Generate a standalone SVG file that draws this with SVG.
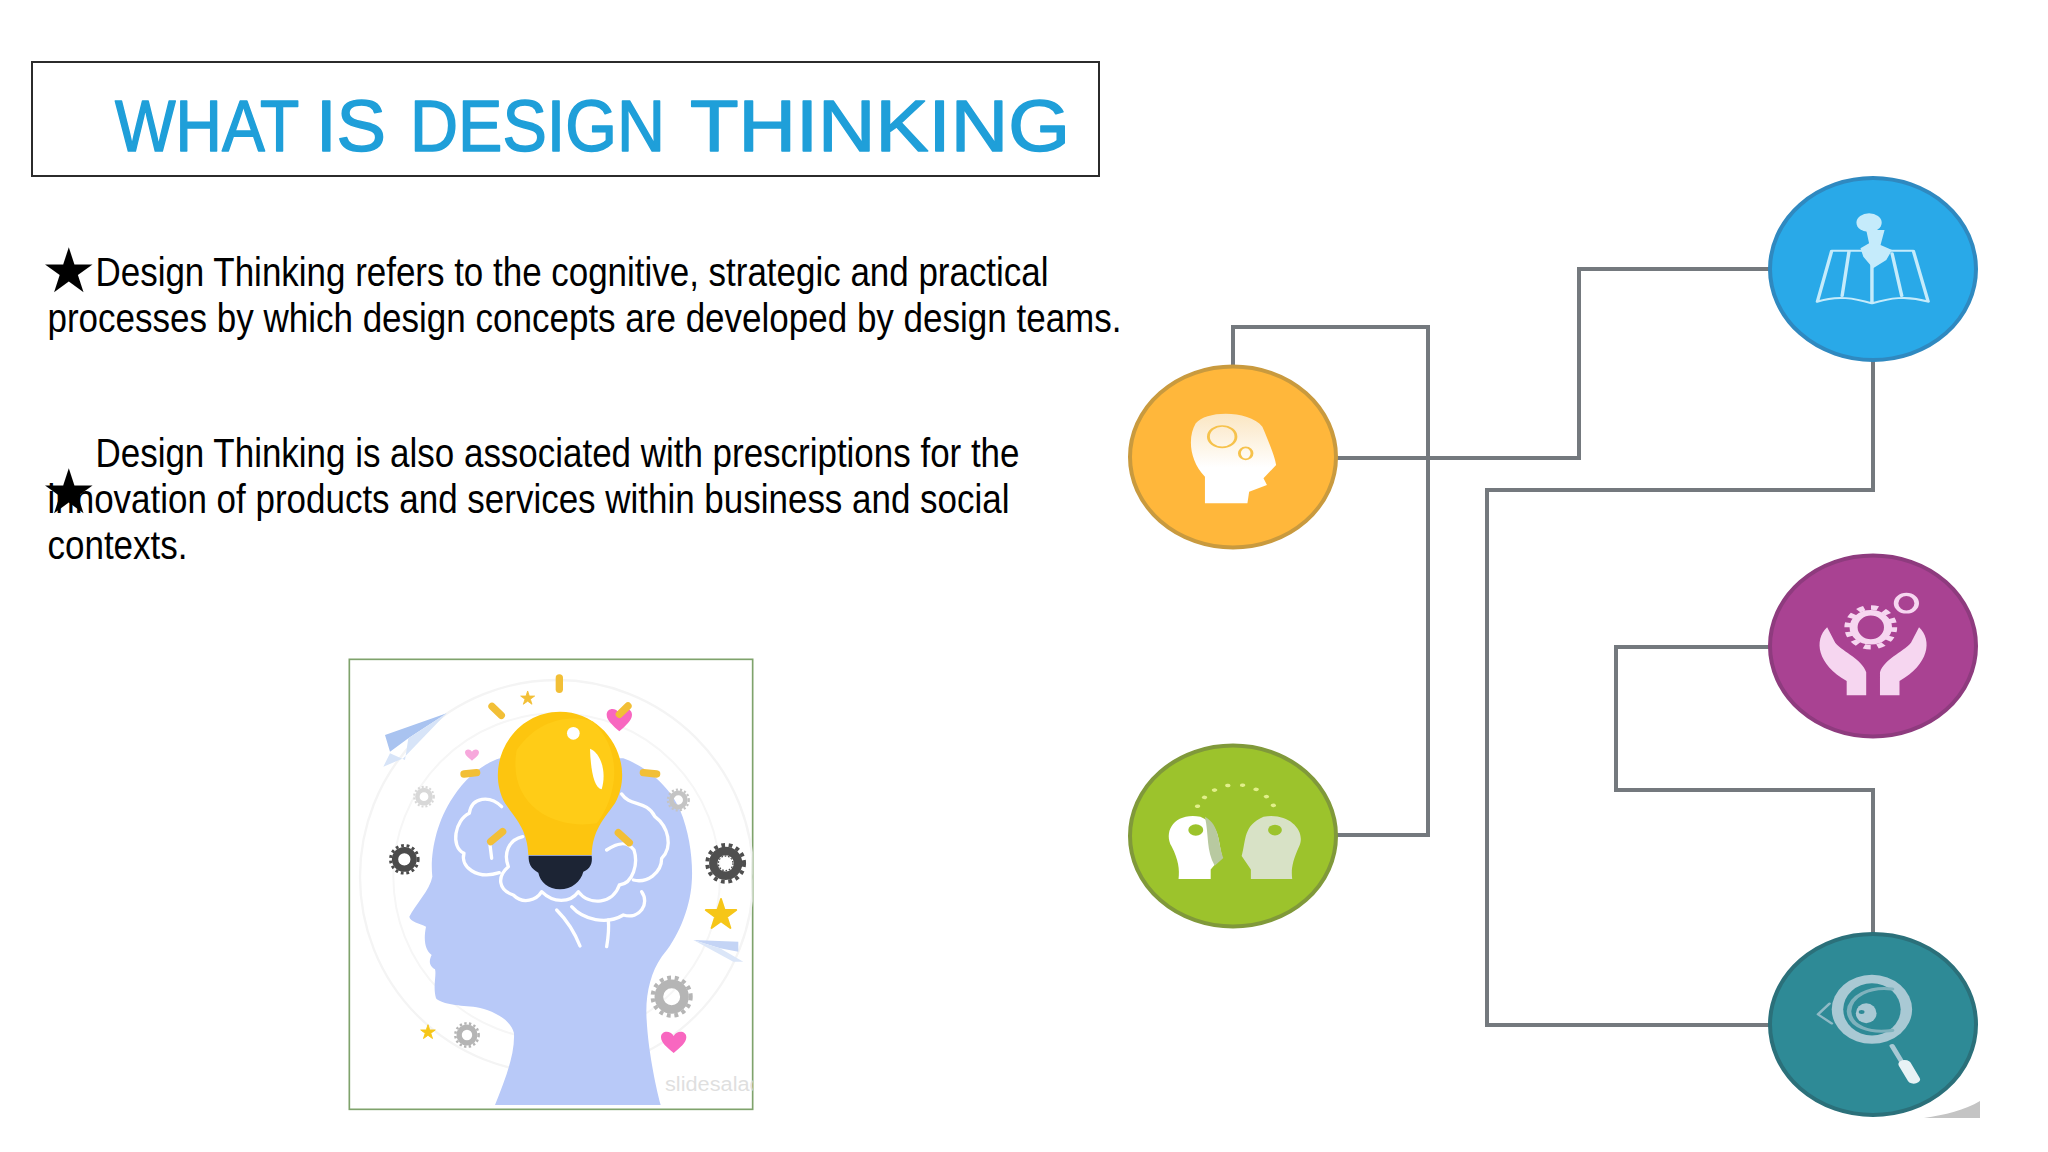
<svg xmlns="http://www.w3.org/2000/svg" width="2048" height="1152" viewBox="0 0 2048 1152">
<style>
.body{font-family:"Liberation Sans",Arial,sans-serif;font-size:40px;fill:#000}
.title{font-family:"Liberation Sans",Arial,sans-serif;font-size:72px;fill:#1f9fd9;stroke:#1f9fd9;stroke-width:1.500;stroke-linejoin:round}
.bullet{font-family:"DejaVu Sans",sans-serif;font-size:62px;fill:#000}
.conn{fill:none;stroke:#74797e;stroke-width:4;stroke-linejoin:miter}
.ray{stroke:#f2bf36;stroke-width:22;stroke-linecap:round;fill:none}
.brain{fill:none;stroke:#fff;stroke-width:10;stroke-linecap:round;stroke-linejoin:round}
.ic{fill:none;stroke-linecap:round;stroke-linejoin:round}
</style>
<defs>
<polygon id="star" points="0,-1 .2245,-.309 .951,-.309 .363,.118 .588,.809 0,.382 -.588,.809 -.363,.118 -.951,-.309 -.2245,-.309" stroke-width=".12" stroke-linejoin="round"/>
<path id="heart" d="M0,.9 C-.5,.45 -1,.1 -1,-.35 C-1,-.85 -.3,-.95 0,-.45 C.3,-.95 1,-.85 1,-.35 C1,.1 .5,.45 0,.9Z"/>
<g id="gear" fill="none" stroke="currentColor"><circle r=".62" stroke-width=".42"/><circle r=".92" stroke-width=".2" pathLength="28" stroke-dasharray="1 1"/></g>
<clipPath id="picClip"><rect x="28" y="28" width="1210" height="1350"/></clipPath>
<linearGradient id="headFade" x1="0" y1="0" x2="0" y2="1"><stop offset="0" stop-color="#fbe6c2"/><stop offset=".6" stop-color="#fff"/></linearGradient>
</defs>
<rect width="2048" height="1152" fill="#fff"/>

<g id="title">
<rect x="32" y="62" width="1067" height="114" fill="#fff" stroke="#2b2b2b" stroke-width="2"/>
<text class="title" y="151"><tspan x="115" textLength="183" lengthAdjust="spacingAndGlyphs">WHAT</tspan> <tspan x="316" textLength="70" lengthAdjust="spacingAndGlyphs">IS</tspan> <tspan x="410" textLength="255" lengthAdjust="spacingAndGlyphs">DESIGN</tspan> <tspan x="690" textLength="380" lengthAdjust="spacingAndGlyphs">THINKING</tspan></text>
</g>

<g id="paragraph-1">
<text class="bullet" x="41" y="292">★</text>
<text class="body" x="95.500" y="286" textLength="953" lengthAdjust="spacingAndGlyphs">Design Thinking refers to the cognitive, strategic and practical</text>
<text class="body" x="47.500" y="332" textLength="1074" lengthAdjust="spacingAndGlyphs">processes by which design concepts are developed by design teams.</text>
</g>
<g id="paragraph-2">
<text class="body" x="95.500" y="467" textLength="924" lengthAdjust="spacingAndGlyphs">Design Thinking is also associated with prescriptions for the</text>
<text class="body" x="47.500" y="513" textLength="962" lengthAdjust="spacingAndGlyphs">innovation of products and services within business and social</text>
<text class="body" x="47.500" y="559" textLength="140" lengthAdjust="spacingAndGlyphs">contexts.</text>
<text class="bullet" x="41" y="513">★</text>
</g>

<g id="illustration" transform="translate(340,650) scale(.33333)">
<rect x="28" y="28" width="1210" height="1350" fill="#fff" stroke="#7fa36c" stroke-width="5"/>
<g clip-path="url(#picClip)">
<circle cx="650" cy="680" r="590" fill="none" stroke="#f4f4f4" stroke-width="7"/>
<circle cx="650" cy="680" r="490" fill="none" stroke="#f6f6f6" stroke-width="6"/>
<path d="M465,1365 C490,1300 525,1220 522,1150 C510,1100 440,1075 400,1070 C350,1068 300,1060 288,1045 C278,1010 290,975 285,958 C262,945 270,925 275,915 C255,900 250,870 258,830 C240,820 210,815 208,800 C225,765 270,720 277,680 C270,620 285,520 340,440 C380,380 430,340 480,325 L850,325 C920,350 990,410 1020,480 C1050,550 1060,640 1055,700 C1050,780 1010,870 965,920 C930,970 915,1040 920,1110 C925,1200 945,1300 962,1365 Z" fill="#b8c9f8"/>
<g class="brain">
<path d="M485,470 C450,435 395,440 388,490 C345,510 330,590 372,610 C360,650 410,690 478,668"/>
<path d="M548,560 C505,570 490,610 505,650 C470,680 475,720 520,735 C550,765 590,750 605,725 C640,760 690,760 715,725 C750,770 820,760 838,705 C880,700 895,640 882,600 C860,570 830,580 800,600"/>
<path d="M845,432 C870,470 920,450 945,500 C985,530 1000,590 965,625 C965,670 920,700 880,690"/>
<path d="M905,725 C930,760 900,810 850,795 C800,825 730,810 695,770"/>
<path d="M650,780 C680,810 705,850 720,888"/>
<path d="M805,810 C808,840 805,860 800,890"/>
<path d="M450,585 L455,625"/>
</g>
<g class="ray">
<path d="M658,84 V118"/><path d="M456,169 L484,196"/><path d="M372,372 L410,368"/><path d="M910,368 L950,372"/><path d="M452,575 L488,545"/><path d="M835,548 L868,578"/>
</g>
<use href="#heart" transform="translate(838,208) scale(38,40)" fill="#f867c0"/>
<path class="ray" d="M864,168 L838,193"/>
<use href="#heart" transform="translate(396,314) scale(21,20)" fill="#f7a8dc"/>
<use href="#heart" transform="translate(1001,1175) scale(38,38)" fill="#f867c0"/>
<use href="#star" transform="translate(563,145) scale(22)" fill="#f2bf36" stroke="#f2bf36"/>
<use href="#star" transform="translate(1143,795) scale(48)" fill="#f6c618" stroke="#f6c618"/>
<use href="#star" transform="translate(264,1147) scale(23)" fill="#f6c618" stroke="#f6c618"/>
<use href="#gear" transform="translate(193,628) scale(45)" color="#4b4b4b"/>
<use href="#gear" transform="translate(1157,640) scale(60)" color="#4f4f4f"/>
<circle cx="1157" cy="640" r="22" fill="none" stroke="#4f4f4f" stroke-width="4" stroke-dasharray="5 5"/>
<use href="#gear" transform="translate(995,1040) scale(62)" color="#b5b5b5"/>
<use href="#gear" transform="translate(381,1155) scale(38)" color="#b5b5b5"/>
<use href="#gear" transform="translate(252,440) scale(32)" color="#d8d8d8"/>
<use href="#gear" transform="translate(1015,450) scale(34)" color="#c4c4c4"/>
<polygon points="320,190 135,255 150,305 205,265" fill="#a9c3f0"/>
<polygon points="320,190 205,265 195,330 150,310 130,350 190,325" fill="#d7e4f8"/>
<polygon points="1060,870 1195,875 1195,905 1140,895" fill="#c4d4f5"/>
<polygon points="1060,870 1140,895 1210,935 1180,935" fill="#dbe6f8"/>
<path d="M565,615 C562,540 530,510 495,460 C430,340 520,185 660,185 C800,185 890,340 825,460 C790,510 758,540 755,615 Z" fill="#fdc50f"/>
<path d="M530,300 C600,200 700,195 760,215 C870,330 810,470 770,520 C650,540 500,470 530,300Z" fill="#ffcc17"/>
<circle cx="700" cy="250" r="19" fill="#fff"/>
<path d="M750,296 C785,310 800,370 785,418 C762,415 752,360 750,296Z" fill="#fff"/>
<path d="M566,617 H755 C758,640 752,655 730,665 C722,695 695,718 660,718 C625,718 600,695 595,668 C572,655 565,640 566,617Z" fill="#1c2434"/>
<text x="975" y="1322" font-family="'Liberation Sans',sans-serif" font-size="58" fill="#dfdfdf" textLength="290" lengthAdjust="spacingAndGlyphs">slidesalad</text>
</g>
</g>

<g id="connectors" class="conn">
<path class="conn" d="M1233,366 V327 H1428 V835 H1337"/>
<path class="conn" d="M1337,458 H1579 V269 H1769"/>
<path class="conn" d="M1873,361 V490 H1487 V1025 H1769"/>
<path class="conn" d="M1769,647 H1616 V790 H1873 V933"/>
</g>

<g id="node-empathize">
<ellipse cx="1233" cy="457" rx="103" ry="90.5" fill="#ffb73b" stroke="#c99a3e" stroke-width="4"/>
<g transform="translate(1120,160) scale(.574,.33333)">
<path d="M148,1030 L148,950 C120,900 118,830 132,790 C150,750 225,750 248,800 C258,840 270,890 272,915 L250,955 L256,975 L225,995 L222,1030Z" fill="url(#headFade)"/>
<ellipse cx="178" cy="830" rx="24" ry="32" fill="none" stroke="#f6c24c" stroke-width="5"/>
<ellipse cx="219" cy="880" rx="11" ry="18" fill="none" stroke="#f6c24c" stroke-width="5"/>
</g>
</g>
<g id="node-define">
<ellipse cx="1873" cy="269" rx="103" ry="91" fill="#29a9e8" stroke="#2f89c0" stroke-width="4"/>
<g transform="translate(1120,160) scale(.574,.33333)">
<path class="ic" d="M1215,425 L1240,272 H1382 L1408,425 C1370,405 1340,415 1310,430 C1280,415 1250,405 1215,425Z M1270,275 L1258,408 M1310,290 V428 M1345,280 L1362,408" stroke="#c5ebfb" stroke-width="6"/>
<ellipse cx="1305" cy="188" rx="22" ry="28" fill="#c5ebfb"/>
<path d="M1300,210 L1332,210 L1325,255 L1345,270 L1335,300 L1312,325 L1295,290 L1290,265 L1305,250Z" fill="#c5ebfb"/>
</g>
</g>
<g id="node-ideate">
<ellipse cx="1873" cy="646" rx="103" ry="90.5" fill="#a94292" stroke="#8e3b7e" stroke-width="4"/>
<g transform="translate(1120,540) scale(.574,.38314)">
<ellipse cx="1308" cy="228" rx="30" ry="38" fill="none" stroke="#f6d6f0" stroke-width="14"/>
<ellipse cx="1308" cy="228" rx="40" ry="52" fill="none" stroke="#f6d6f0" stroke-width="12" pathLength="24" stroke-dasharray="1 1"/>
<ellipse cx="1370" cy="165" rx="18" ry="23" fill="none" stroke="#f6d6f0" stroke-width="8"/>
<path d="M1232,228 C1208,262 1215,325 1266,368 L1266,405 L1300,405 L1300,345 C1292,310 1262,295 1246,268 Z" fill="#f6d6f0"/>
<path d="M1392,228 C1416,262 1409,325 1358,368 L1358,405 L1324,405 L1324,345 C1332,310 1362,295 1378,268 Z" fill="#f6d6f0"/>
</g>
</g>
<g id="node-prototype">
<ellipse cx="1233" cy="836" rx="103" ry="90.5" fill="#9cc32c" stroke="#80993a" stroke-width="4"/>
<g transform="translate(1120,540) scale(.574,.38314)">
<path class="ic" d="M135,695 C165,620 240,620 268,695" stroke="#e1ef8a" stroke-width="9" pathLength="10" stroke-dasharray="0.01 1.4"/>
<path d="M228,885 L228,860 L212,825 C220,780 215,745 250,722 C295,710 325,760 312,800 C300,840 298,860 300,885Z" fill="#d8e2c6"/>
<path d="M158,885 V860 L178,825 C170,780 175,745 140,722 C95,710 75,760 90,800 C102,835 104,860 102,885Z" fill="#fff"/>
<path d="M148,722 C175,745 170,790 180,830 L165,850 C150,810 155,770 148,722Z" fill="#b8c9a0"/>
<ellipse cx="132" cy="757" rx="13" ry="15" fill="#9cc32c"/>
<ellipse cx="270" cy="757" rx="12" ry="14" fill="#9cc32c"/>
</g>
</g>
<g id="node-test">
<ellipse cx="1873" cy="1024.500" rx="103" ry="90.5" fill="#2e8a96" stroke="#2b707a" stroke-width="4"/>
<g transform="translate(1120,540) scale(.574,.38314)">
<path class="ic" d="M1345,1320 L1362,1362" stroke="#a9c9d4" stroke-width="9"/>
<path class="ic" d="M1367,1368 L1383,1408" stroke="#e8f2f5" stroke-width="22"/>
<ellipse cx="1310" cy="1225" rx="70" ry="90" fill="#a9c9d4"/>
<ellipse cx="1310" cy="1225" rx="50" ry="68" fill="#2e8a96"/>
<path class="ic" d="M1345,1172 C1305,1165 1272,1190 1270,1230 C1272,1270 1305,1288 1345,1280" stroke="#7fb2bd" stroke-width="8"/>
<ellipse cx="1300" cy="1235" rx="18" ry="26" fill="#a9c9d4"/>
<circle cx="1292" cy="1232" r="5" fill="#2e8a96"/>
<path class="ic" d="M1236,1210 L1216,1238 L1240,1262" stroke="#8fbac6" stroke-width="5"/>
</g>
</g>
<path d="M1924,1118 C1945,1115 1965,1110 1980,1101 V1118Z" fill="#c4c4c4"/>
</svg>
